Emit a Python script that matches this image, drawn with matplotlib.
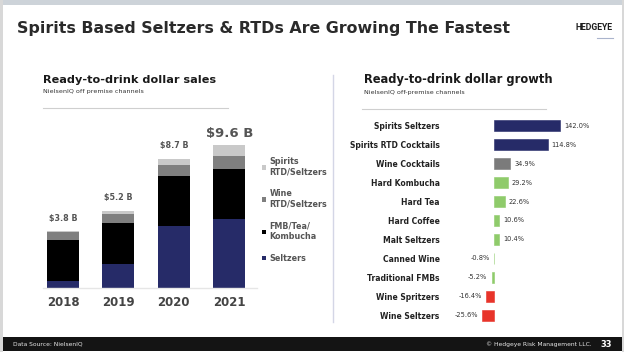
import matplotlib
matplotlib.use("Agg")
import matplotlib.pyplot as plt
from matplotlib.patches import Rectangle
from matplotlib.lines import Line2D

W, H = 624, 352

# left chart data ($B)
years = ["2018", "2019", "2020", "2021"]
seltzers = [0.5, 1.6, 4.2, 4.65]
fmb_tea = [2.7, 2.8, 3.3, 3.35]
wine_rtd = [0.55, 0.6, 0.8, 0.85]
spirits_rtd = [0.05, 0.2, 0.4, 0.75]
totals = [3.8, 5.2, 8.7, 9.6]

# right chart data (% growth)
categories = ["Spirits Seltzers", "Spirits RTD Cocktails", "Wine Cocktails", "Hard Kombucha",
              "Hard Tea", "Hard Coffee", "Malt Seltzers", "Canned Wine",
              "Traditional FMBs", "Wine Spritzers", "Wine Seltzers"]
growth = [142.0, 114.8, 34.9, 29.2, 22.6, 10.6, 10.4, -0.8, -5.2, -16.4, -25.6]
groups = ["spirits", "spirits", "wine", "malt", "malt", "malt", "malt", "malt", "malt", "neg", "neg"]

NAVY = "#262b68"
group_col = {"spirits": NAVY, "wine": "#7b7b7b", "malt": "#8fcb6b", "neg": "#e8342a"}


def box(l, t, r, b):
    # pixel box (from top-left) -> figure fraction rect
    return [l / W, 1 - b / H, (r - l) / W, (b - t) / H]


fig = plt.figure(figsize=(W / 100, H / 100), dpi=100)
fig.patch.set_facecolor("white")

# slide frame
fig.add_artist(Rectangle((0, 1 - 5 / H), 1, 5 / H, transform=fig.transFigure, color="#cdd3d9", lw=0))
fig.add_artist(Rectangle((0, 0), 2.5 / W, 1, transform=fig.transFigure, color="#d8d8d8", lw=0))
fig.add_artist(Rectangle((1 - 2.5 / W, 0), 2.5 / W, 1, transform=fig.transFigure, color="#d8d8d8", lw=0))

fig.text(17 / W, 1 - 29 / H, "Spirits Based Seltzers & RTDs Are Growing The Fastest",
         fontsize=11.4, family="DejaVu Sans", fontweight="bold", color="#2a2a2a", va="center")
fig.text(613 / W, 1 - 27 / H, "HEDGEYE", fontsize=6.3, fontweight="bold", color="#1e1e1e",
         ha="right", va="center", family="Roboto")
fig.add_artist(Line2D([597 / W, 613 / W], [1 - 38 / H, 1 - 38 / H], transform=fig.transFigure,
                      color="#aab4cc", lw=0.8))

# footer
fig.add_artist(Rectangle((2.5 / W, 1 - 351 / H), 1 - 5 / W, 14 / H, transform=fig.transFigure,
                         color="#141414", lw=0))
fig.text(13 / W, 1 - 344.5 / H, "Data Source: NielsenIQ", fontsize=4.3, color="#e8e8e8", va="center")
fig.text(592 / W, 1 - 344.5 / H, "\u00a9 Hedgeye Risk Management LLC.", fontsize=4.3,
         color="#e8e8e8", va="center", ha="right")
fig.text(612 / W, 1 - 344.5 / H, "33", fontsize=6, fontweight="bold", color="white",
         va="center", ha="right")

# divider between the two charts
fig.add_artist(Line2D([333 / W, 333 / W], [1 - 75 / H, 1 - 322 / H], transform=fig.transFigure,
                      color="#d4d6e6", lw=1))

# ---------------- left: stacked bars ----------------
ax1 = fig.add_axes(box(43, 110, 257, 288))
x = range(len(years))
bw = 0.577
b1 = ax1.bar(x, seltzers, bw, color=NAVY, label="Seltzers")
bottom = list(seltzers)
b2 = ax1.bar(x, fmb_tea, bw, bottom=bottom, color="black", label="FMB/Tea/\nKombucha")
bottom = [a + b for a, b in zip(bottom, fmb_tea)]
b3 = ax1.bar(x, wine_rtd, bw, bottom=bottom, color="#7f7f7f", label="Wine\nRTD/Seltzers")
bottom = [a + b for a, b in zip(bottom, wine_rtd)]
b4 = ax1.bar(x, spirits_rtd, bw, bottom=bottom, color="#c9c9c9", label="Spirits\nRTD/Seltzers")

for i, t in enumerate(totals):
    big = i == len(totals) - 1
    ax1.annotate(f"${t:.1f} B", (i, t), xytext=(0, 3.5 if big else 6), textcoords="offset points",
                 ha="center", va="bottom", fontweight="bold",
                 fontsize=9.5 if big else 5.8, color="#555555")

ax1.set_xlim(-0.36, 3.5)
ax1.set_ylim(0, 11.97)
ax1.set_xticks(list(x))
ax1.set_xticklabels(years, fontsize=8.5, fontweight="bold", color="#444444")
ax1.tick_params(axis="x", length=0, pad=6)
ax1.set_yticks([])
for s in ["top", "right", "left"]:
    ax1.spines[s].set_visible(False)
ax1.spines["bottom"].set_color("#e6e6e6")
ax1.spines["bottom"].set_linewidth(1)

leg = ax1.legend(handles=[b4, b3, b2, b1], loc="upper left",
                 bbox_to_anchor=(258 / W, 1 - 153 / H), bbox_transform=fig.transFigure,
                 frameon=False, handlelength=0.5, handleheight=0.5, handletextpad=0.4,
                 labelspacing=1.6, borderpad=0, prop={"size": 5.8, "weight": "bold"})
for t in leg.get_texts():
    t.set_color("#555555")

fig.text(43 / W, 1 - 80 / H, "Ready-to-drink dollar sales", fontsize=8.1, fontweight="bold",
         color="#1a1a1a", va="center")
fig.text(43 / W, 1 - 92 / H, "NielsenIQ off premise channels", fontsize=4.6, color="#333333",
         va="center")
fig.add_artist(Line2D([43 / W, 228 / W], [1 - 108 / H, 1 - 108 / H], transform=fig.transFigure,
                      color="#cfcfcf", lw=0.8))

# ---------------- right: horizontal bars ----------------
ax2 = fig.add_axes(box(480, 116.5, 564, 324.5))
y = range(len(categories))
bars = ax2.barh(y, growth, 0.58, color=[group_col[g] for g in groups],
                edgecolor=[group_col[g] for g in groups], lw=0.4)
ax2.bar_label(bars, labels=[f"{v:.1f}%" for v in growth], padding=3, fontsize=4.8, color="#333333")
ax2.set_xlim(-30, 150)
ax2.set_ylim(10.5, -0.5)
ax2.set_yticks(list(y))
ax2.set_yticklabels(categories, fontsize=5.5, fontweight="bold", color="#222222")
ax2.tick_params(axis="y", length=0, pad=29)
ax2.set_xticks([])
for s in ax2.spines.values():
    s.set_visible(False)

fig.text(364 / W, 1 - 80 / H, "Ready-to-drink dollar growth", fontsize=8.3, fontweight="bold",
         color="#1a1a1a", va="center")
fig.text(364 / W, 1 - 92.5 / H, "NielsenIQ off-premise channels", fontsize=4.6, color="#333333",
         va="center")
fig.add_artist(Line2D([362 / W, 546 / W], [1 - 109 / H, 1 - 109 / H], transform=fig.transFigure,
                      color="#cfcfcf", lw=0.8))

fig.savefig("out.png", dpi=100)
